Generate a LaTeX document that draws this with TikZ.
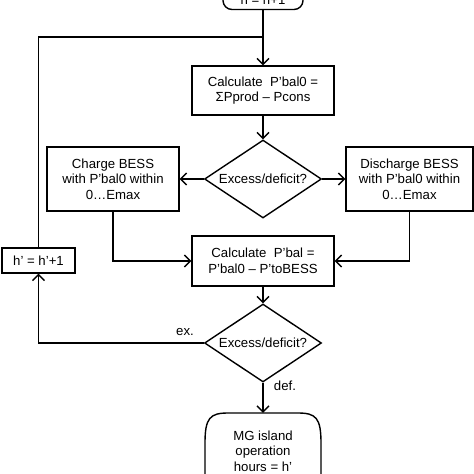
\documentclass[tikz,border=0pt]{standalone}
\usepackage{fontspec}
\setmainfont{Liberation Sans}
\usetikzlibrary{arrows.meta,shapes.geometric}
\begin{document}
\begin{tikzpicture}[x=1pt,y=-1pt,
  every node/.style={font=\fontsize{13.2}{15.5}\selectfont},
  box/.style={draw, line width=1.4pt, align=center, inner sep=0pt},
  dec/.style={draw, diamond, line width=1.4pt, aspect=1.5, inner sep=0pt, minimum width=117pt, minimum height=78pt},
  ln/.style={line width=1.4pt},
  arr/.style={line width=1.4pt, -{Straight Barb[length=6pt,width=12pt,line width=1.4pt]}},
  lbl/.style={inner sep=0pt}]
\useasboundingbox (0,0) rectangle (474,474);
\clip (0,0) rectangle (474,474);
% nodes
\node[box, rounded corners=9pt, minimum width=80pt, minimum height=20pt] (top) at (263,-0.5) {h = h+1};
\node[box, minimum width=142pt, minimum height=49pt] (calc1) at (263,90.5) {Calculate\ \ P’bal0 =\\ΣPprod – Pcons};
\node[dec] (dia1) at (263,179) {Excess/deficit?};
\node[box, minimum width=132pt, minimum height=64pt] (charge) at (113,179) {Charge BESS\\with P’bal0 within\\0…Emax};
\node[box, minimum width=127pt, minimum height=64pt] (dis) at (409.5,179) {Discharge BESS\\with P’bal0 within\\0…Emax};
\node[box, minimum width=142pt, minimum height=50pt] (calc2) at (263,261) {Calculate\ \ P’bal =\\P’bal0 – P’toBESS};
\node[box, minimum width=73pt, minimum height=25pt] (hp) at (38.5,260.5) {h’ = h’+1};
\node[dec] (dia2) at (263,343) {Excess/deficit?};
\node[align=center, inner sep=0pt, minimum width=117pt, minimum height=76pt] (term) at (263,451) {MG island\\operation\\hours = h’};
\draw[ln] (205,490) -- (205,443) .. controls (205,418) and (210,413) .. (228,413) -- (298,413) .. controls (316,413) and (321,418) .. (321,443) -- (321,490);
\coordinate (join) at (263,37);
% connectors
\draw[arr] (top.south) -- (calc1.north);
\draw[ln] (hp.north) |- (join);
\draw[arr] (calc1.south) -- (dia1.north);
\draw[arr] (dia1.west) -- (charge.east);
\draw[arr] (dia1.east) -- (dis.west);
\draw[arr] (charge.south) |- (calc2.west);
\draw[arr] (dis.south) |- (calc2.east);
\draw[arr] (calc2.south) -- (dia2.north);
\draw[arr] (dia2.west) -| (hp.south);
\draw[arr] (dia2.south) -- (term.north);
\node[lbl] (ex) at (185,332) {ex.};
\node[lbl] (def) at (285,386) {def.};
\end{tikzpicture}
\end{document}
